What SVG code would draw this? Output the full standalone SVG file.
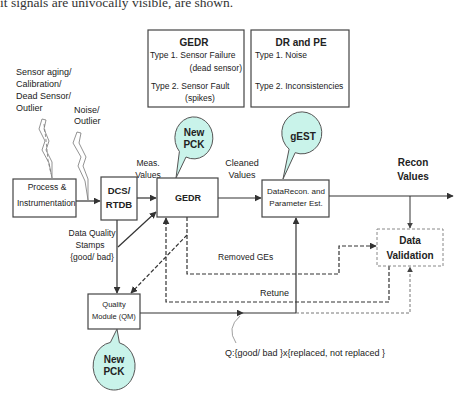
<svg xmlns="http://www.w3.org/2000/svg" width="474" height="403" viewBox="0 0 474 403">
<defs>
<marker id="ah" viewBox="0 0 10 10" refX="9" refY="5" markerWidth="7" markerHeight="7" markerUnits="userSpaceOnUse" orient="auto">
<path d="M0,0 L10,5 L0,10 Z" fill="#333"/>
</marker>
<marker id="ahg" viewBox="0 0 10 10" refX="9" refY="5" markerWidth="6" markerHeight="6" markerUnits="userSpaceOnUse" orient="auto">
<path d="M0,0 L10,5 L0,10 Z" fill="#444"/>
</marker>
</defs>
<style>
text{font-family:"Liberation Sans",Arial,sans-serif;fill:#222}
.box{fill:#fff;stroke:#444;stroke-width:1.2}
.dv{fill:#fff;stroke:#888;stroke-width:1;stroke-dasharray:3,2}
.bub{fill:#c9f3ea;stroke:#555;stroke-width:1}
.t8{font-size:8px}
.t85{font-size:8.5px}
.t9{font-size:9px}
.b{font-weight:bold}
.c{text-anchor:middle}
.ln{fill:none;stroke:#333;stroke-width:1.2}
.dl{fill:none;stroke:#333;stroke-width:1.2;stroke-dasharray:4,2}
.gl{fill:none;stroke:#777;stroke-width:1;stroke-dasharray:3,2}
.bolt{fill:none;stroke:#777;stroke-width:0.8}
</style>
<rect width="474" height="403" fill="#fff"/>
<text x="0" y="7" style="font-family:'Liberation Serif',serif;font-size:13.5px;fill:#333">it signals are univocally visible, are shown.</text>

<g id="legend-gedr">
<rect class="box" x="148" y="30" width="96" height="77"/>
<text class="c b" x="194" y="46" style="font-size:10px">GEDR</text>
<text class="t85" x="150" y="58">Type 1. Sensor Failure</text>
<text class="t85" x="242" y="71" text-anchor="end">(dead sensor)</text>
<text class="t85" x="151" y="89">Type 2. Sensor Fault</text>
<text class="t85 c" x="200" y="101">(spikes)</text>
</g>
<g id="legend-drpe">
<rect class="box" x="251" y="30" width="98" height="77"/>
<text class="c b" x="301" y="46" style="font-size:10px">DR and PE</text>
<text class="t85" x="255" y="58">Type 1. Noise</text>
<text class="t85" x="255" y="89">Type 2. Inconsistencies</text>
</g>

<g id="labels">
<text class="t9" x="16" y="75">Sensor aging/</text>
<text class="t9" x="16" y="87">Calibration/</text>
<text class="t9" x="16" y="99">Dead Sensor/</text>
<text class="t9" x="16" y="111">Outlier</text>
<text class="t9" x="74" y="113">Noise/</text>
<text class="t9" x="74" y="124">Outlier</text>
<text class="t85 c" x="148" y="166">Meas.</text>
<text class="t85 c" x="148" y="178">Values</text>
<text class="t9 c" x="242" y="166">Cleaned</text>
<text class="t9 c" x="242" y="178">Values</text>
<text class="c b" x="413" y="166" style="font-size:10px">Recon</text>
<text class="c b" x="413" y="180" style="font-size:10px">Values</text>
<text class="t85 c" x="92" y="236">Data Quality</text>
<text class="t85 c" x="90" y="248">Stamps</text>
<text class="t85 c" x="92" y="260">{good/ bad}</text>
<text class="t85" x="218" y="260">Removed GEs</text>
<text class="t9" x="260" y="296">Retune</text>
<text class="t9" x="225" y="356">Q:{good/ bad }x{replaced, not replaced }</text>
</g>

<g id="bolts">
<path class="bolt" d="M42,119 L39,129 L45,141 L42,150 L49,163 L52,178 L52,162 L46,150 L49,141 L44,129 L46,120 Z"/>
<path class="bolt" d="M44,124 L46,140 L48,160 L51,174" stroke-dasharray="3,2"/>
<path class="bolt" d="M77,132 L73,143 L81,157 L78,166 L85,181 L88,200 L88,179 L83,166 L86,157 L79,143 L81,133 Z"/>
</g>

<g id="connectors">
<line class="ln" x1="76" y1="201" x2="100" y2="201" marker-end="url(#ah)"/>
<line class="ln" x1="137" y1="198" x2="156" y2="198" marker-end="url(#ah)"/>
<line class="ln" x1="218" y1="198" x2="261" y2="198" marker-end="url(#ah)"/>
<line class="ln" x1="329" y1="196" x2="453" y2="196" marker-end="url(#ah)"/>
<line x1="410" y1="196" x2="410" y2="228" stroke="#333" stroke-width="1" marker-end="url(#ahg)"/>
<line class="ln" x1="117" y1="220" x2="117" y2="293" marker-end="url(#ah)"/>
<line class="ln" x1="118" y1="247" x2="156" y2="212" marker-end="url(#ah)"/>
<line class="dl" x1="187" y1="235" x2="131" y2="293" marker-end="url(#ah)"/>
<path class="dl" d="M187,217 L187,274 L339,274 L339,246 L376,246" marker-end="url(#ah)"/>
<path class="dl" d="M389,266 L389,302 L166,302 L166,218" marker-end="url(#ah)"/>
<line class="ln" x1="140" y1="313" x2="243" y2="313" marker-end="url(#ah)"/>
<line class="ln" x1="243" y1="313" x2="296" y2="313"/>
<line class="ln" x1="296" y1="313" x2="296" y2="218" marker-end="url(#ah)"/>
<path class="gl" d="M296,313 L410,313 L410,267" marker-end="url(#ahg)"/>
<path d="M236,343 Q226,328 240,316" fill="none" stroke="#888" stroke-width="0.8"/>
</g>

<g id="process">
<rect class="box" x="13" y="179" width="63" height="38"/>
<text class="t85 c" x="47" y="190">Process &amp;</text>
<text class="t85" x="17" y="206">Instrumentation</text>
</g>
<g id="dcs">
<rect class="box" x="101" y="177" width="36" height="43"/>
<text class="c b" x="119" y="194" style="font-size:9.5px">DCS/</text>
<text class="c b" x="119" y="208" style="font-size:9.5px">RTDB</text>
</g>
<g id="gedr">
<rect class="box" x="157" y="178" width="61" height="39"/>
<text class="c b t9" x="188" y="201">GEDR</text>
</g>
<g id="drpe">
<rect class="box" x="262" y="180" width="67" height="37"/>
<text class="t8 c" x="296" y="194">DataRecon. and</text>
<text class="t8 c" x="296" y="206">Parameter Est.</text>
</g>
<g id="validation">
<rect class="dv" x="377" y="229" width="66" height="37"/>
<text class="c b" x="410" y="244" style="font-size:10px">Data</text>
<text class="c b" x="410" y="259" style="font-size:10px">Validation</text>
</g>
<g id="qm">
<rect class="box" x="88" y="294" width="52" height="35"/>
<text class="c" x="114" y="307" style="font-size:7.5px">Quality</text>
<text class="c" x="114" y="319" style="font-size:7.5px">Module (QM)</text>
</g>
<g id="pck-top">
<path class="bub" d="M186,157 L176,178 L179.4,151.5 A19 21 0 1 1 186,157 Z"/>
<text class="c b" x="194" y="136" style="font-size:10px">New</text>
<text class="c b" x="194" y="148" style="font-size:10px">PCK</text>
</g>
<g id="gest">
<path class="bub" d="M295.2,152.7 L283,179 L289.1,149.1 A20 21 0 1 1 295.2,152.7 Z"/>
<text class="c b" x="303" y="140" style="font-size:10px">gEST</text>
</g>
<g id="pck-bottom">
<path class="bub" d="M110.4,342.4 L117,329 L119.4,342.8 A21 24 0 1 1 110.4,342.4 Z"/>
<text class="c b" x="114" y="363" style="font-size:10px">New</text>
<text class="c b" x="114" y="375" style="font-size:10px">PCK</text>
</g>
</svg>
